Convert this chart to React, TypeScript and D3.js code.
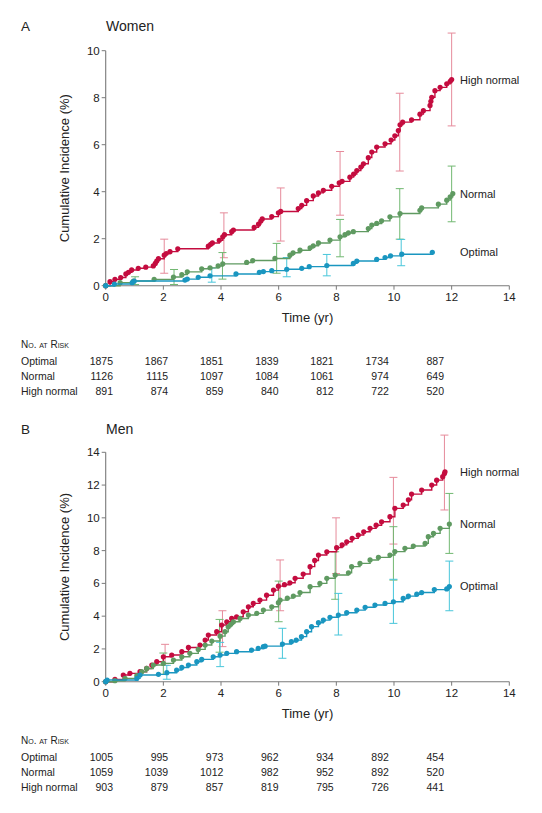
import * as d3 from 'd3';

type Pt = [number, number];
type CI = [number, number, number];

const FONT = '"Liberation Sans", Arial, Helvetica, sans-serif';

const seriesNames = ['High normal', 'Normal', 'Optimal'];
const lineColors = ['#c40c3f', '#5f9a61', '#1a96c0'];
const barColors = ['#e68b9b', '#72b872', '#48c6da'];

const xTicks = [0, 2, 4, 6, 8, 10, 12, 14];
const riskYears = [0, 2, 4, 6, 8, 10, 12];

// Women: cumulative incidence (%) at each event time (yr)
const womenHighNormal: Pt[] = [
  [0, 0], [0.15, 0.17], [0.32, 0.27], [0.52, 0.35], [0.7, 0.5], [0.79, 0.57], [0.9, 0.67],
  [1.13, 0.74], [1.39, 0.79], [1.65, 0.84], [1.72, 0.95], [1.77, 1.05], [1.83, 1.15],
  [2.03, 1.3], [2.1, 1.37], [2.23, 1.45], [2.5, 1.57], [3.56, 1.68], [3.64, 1.76],
  [3.7, 1.82], [3.94, 1.93], [4.06, 2.08], [4.12, 2.17], [4.37, 2.3], [4.43, 2.37],
  [5.15, 2.48], [5.3, 2.62], [5.38, 2.75], [5.43, 2.84], [5.76, 2.94], [5.99, 3.1],
  [6.07, 3.16], [6.68, 3.28], [6.8, 3.42], [6.97, 3.62], [7.2, 3.82], [7.38, 3.95],
  [7.55, 4.06], [7.84, 4.23], [8.1, 4.38], [8.2, 4.44], [8.47, 4.62], [8.6, 4.75],
  [8.71, 4.9], [8.85, 5.05], [8.94, 5.19], [9.11, 5.45], [9.23, 5.69], [9.4, 5.9],
  [9.69, 6.04], [9.9, 6.2], [10.03, 6.38], [10.15, 6.6], [10.21, 6.85], [10.3, 6.96],
  [10.61, 7.06], [10.9, 7.3], [11.02, 7.45], [11.25, 7.67], [11.28, 7.85], [11.31, 8.02],
  [11.42, 8.3], [11.6, 8.44], [11.83, 8.59], [11.95, 8.7], [12.0, 8.77],
];
const womenNormal: Pt[] = [
  [0, 0], [0.5, 0.13], [0.96, 0.2], [1.68, 0.27], [2.35, 0.37], [2.64, 0.47], [2.83, 0.59],
  [3.33, 0.72], [3.62, 0.76], [3.9, 0.84], [4.06, 0.93], [4.89, 0.99], [5.1, 1.07],
  [5.87, 1.16], [6.39, 1.3], [6.5, 1.4], [6.74, 1.51], [7.09, 1.61], [7.2, 1.7],
  [7.38, 1.82], [7.78, 1.94], [8.13, 2.08], [8.3, 2.17], [8.42, 2.25], [8.59, 2.3],
  [9.11, 2.43], [9.23, 2.58], [9.4, 2.65], [9.57, 2.76], [9.86, 2.93], [10.21, 3.07],
  [10.9, 3.21], [10.96, 3.31], [11.54, 3.47], [11.83, 3.64], [11.95, 3.78], [12.04, 3.92],
];
const womenOptimal: Pt[] = [
  [0, 0], [0.3, 0.07], [0.92, 0.13], [0.99, 0.2], [2.75, 0.24], [2.83, 0.28], [3.21, 0.36],
  [3.62, 0.42], [4.52, 0.5], [5.33, 0.57], [5.47, 0.6], [5.76, 0.64], [6.28, 0.7],
  [6.8, 0.74], [7.06, 0.81], [7.67, 0.86], [8.59, 0.95], [8.71, 1.05], [9.4, 1.12],
  [9.69, 1.2], [9.88, 1.27], [10.27, 1.34], [11.33, 1.42],
];

// 95% CI whiskers: [time, lower, upper]
const womenHighNormalCI: CI[] = [
  [2.03, 0.53, 1.98], [4.1, 1.19, 3.1], [6.07, 1.9, 4.16], [8.13, 3.0, 5.71],
  [10.2, 4.88, 8.19], [12.0, 6.8, 10.75],
];
const womenNormalCI: CI[] = [
  [1.02, 0.05, 0.38], [2.37, 0.05, 0.69], [4.05, 0.28, 1.41], [5.93, 0.53, 1.8],
  [8.13, 1.23, 2.82], [10.2, 1.98, 4.13], [12.0, 2.72, 5.09],
];
const womenOptimalCI: CI[] = [
  [3.68, 0.15, 0.75], [6.28, 0.38, 1.2], [7.67, 0.42, 1.33], [10.25, 0.85, 1.97],
];

// Men
const menHighNormal: Pt[] = [
  [0, 0], [0.32, 0.14], [0.61, 0.41], [0.84, 0.51], [1.19, 0.61], [1.42, 0.81], [1.6, 1.02],
  [1.77, 1.22], [2.0, 1.52], [2.29, 1.63], [2.64, 1.83], [2.87, 2.09], [3.27, 2.24],
  [3.45, 2.54], [3.56, 2.85], [3.85, 3.05], [4.02, 3.46], [4.2, 3.66], [4.37, 3.86],
  [4.54, 3.96], [4.77, 4.27], [4.95, 4.57], [5.12, 4.78], [5.35, 4.98], [5.58, 5.28],
  [5.82, 5.59], [5.99, 5.83], [6.2, 5.92], [6.39, 6.04], [6.57, 6.31], [6.85, 6.57],
  [7.09, 7.02], [7.25, 7.4], [7.38, 7.73], [7.67, 7.93], [8.01, 8.18], [8.2, 8.35],
  [8.36, 8.54], [8.55, 8.75], [8.76, 8.95], [8.95, 9.15], [9.17, 9.36], [9.38, 9.55],
  [9.57, 9.76], [9.86, 10.07], [10.03, 10.58], [10.32, 10.78], [10.5, 11.1], [10.61, 11.45],
  [10.96, 11.7], [11.31, 12.0], [11.48, 12.3], [11.69, 12.51], [11.75, 12.7], [11.77, 12.81],
];
const menNormal: Pt[] = [
  [0, 0], [0.32, 0.06], [0.67, 0.2], [1.08, 0.37], [1.25, 0.61], [1.42, 0.81], [1.65, 1.02],
  [2.0, 1.12], [2.35, 1.32], [2.64, 1.52], [2.92, 1.73], [3.21, 1.97], [3.45, 2.24],
  [3.68, 2.48], [3.97, 2.78], [4.14, 3.05], [4.25, 3.35], [4.34, 3.5], [4.43, 3.66],
  [4.66, 3.86], [4.95, 4.07], [5.24, 4.17], [5.47, 4.37], [5.76, 4.57], [5.99, 4.82],
  [6.05, 4.98], [6.3, 5.1], [6.51, 5.23], [6.74, 5.44], [7.09, 5.8], [7.43, 6.0],
  [7.67, 6.31], [7.96, 6.51], [8.42, 6.65], [8.53, 7.02], [8.82, 7.22], [9.17, 7.43],
  [9.46, 7.59], [9.86, 7.73], [10.03, 7.94], [10.38, 8.14], [10.67, 8.28], [11.08, 8.44],
  [11.19, 8.85], [11.37, 9.05], [11.6, 9.36], [11.92, 9.62],
];
const menOptimal: Pt[] = [
  [0, 0], [0.05, 0.1], [1.08, 0.2], [1.19, 0.41], [1.83, 0.45], [2.12, 0.55], [2.46, 0.71],
  [2.64, 0.87], [2.87, 1.02], [3.16, 1.22], [3.33, 1.36], [3.73, 1.52], [3.97, 1.63],
  [4.2, 1.73], [4.54, 1.83], [5.06, 1.93], [5.29, 2.03], [5.47, 2.14], [5.53, 2.17],
  [6.13, 2.3], [6.44, 2.44], [6.61, 2.54], [6.79, 2.75], [6.97, 3.05], [7.14, 3.36],
  [7.38, 3.6], [7.55, 3.76], [7.78, 3.93], [8.07, 4.07], [8.36, 4.21], [8.71, 4.37],
  [9.0, 4.54], [9.34, 4.68], [9.69, 4.78], [9.98, 4.88], [10.32, 5.08], [10.5, 5.22],
  [10.79, 5.34], [10.96, 5.44], [11.4, 5.62], [11.83, 5.66], [11.92, 5.81],
];

const menHighNormalCI: CI[] = [
  [2.06, 1.0, 2.28], [4.05, 2.14, 4.33], [6.05, 4.33, 7.43], [7.99, 6.6, 10.0],
  [9.98, 8.4, 12.47], [11.75, 10.48, 15.05],
];
const menNormalCI: CI[] = [
  [2.0, 0.45, 1.75], [3.95, 1.8, 3.8], [6.0, 3.66, 6.14], [7.96, 5.03, 7.93],
  [9.98, 6.2, 9.46], [11.92, 7.83, 11.49],
];
const menOptimalCI: CI[] = [
  [2.12, 0.15, 1.0], [3.97, 0.92, 2.4], [6.13, 1.43, 3.26], [8.07, 2.85, 5.39],
  [9.98, 3.56, 6.25], [11.92, 4.33, 7.36],
];

// Number at risk
const womenRiskOptimal = [1875, 1867, 1851, 1839, 1821, 1734, 887];
const womenRiskNormal = [1126, 1115, 1097, 1084, 1061, 974, 649];
const womenRiskHighNormal = [891, 874, 859, 840, 812, 722, 520];
const menRiskOptimal = [1005, 995, 973, 962, 934, 892, 454];
const menRiskNormal = [1059, 1039, 1012, 982, 952, 892, 520];
const menRiskHighNormal = [903, 879, 857, 819, 795, 726, 441];

const x = d3.scaleLinear().domain([0, 14]).range([105.7, 509.3]);
const riskX = d3.scaleLinear().domain([0, 12]).range([113, 444]);
const line = d3.line<Pt>().x((d) => x(d[0])).y(() => 0).curve(d3.curveStepAfter);

interface PanelProps {
  letter: string;
  title: string;
  titleY: number;
  yMax: number;
  yTop: number;
  yBottom: number;
  curves: Pt[][];
  cis: CI[][];
  tableY: number;
  risk: number[][];
}

function Panel({ letter, title, titleY, yMax, yTop, yBottom, curves, cis, tableY, risk }: PanelProps) {
  const y = d3.scaleLinear().domain([0, yMax]).range([yBottom, yTop]);
  const path = line.y((d) => y(d[1]));
  const yTicks = d3.range(0, yMax + 1, 2);
  const axisColor = '#7a7a7a';
  const midY = (yTop + yBottom) / 2;
  const rowNames = ['Optimal', 'Normal', 'High normal'];

  return (
    <g fontFamily={FONT}>
      <text x={21} y={titleY} fontSize={13.5} fill="#222">{letter}</text>
      <text x={106} y={titleY} fontSize={14} fill="#222">{title}</text>

      {/* axes */}
      <line x1={x(0)} x2={x(0)} y1={yTop} y2={yBottom} stroke={axisColor} strokeWidth={1.1} />
      <line x1={x(0)} x2={x(14)} y1={yBottom} y2={yBottom} stroke={axisColor} strokeWidth={1.1} />
      {yTicks.map((t) => (
        <g key={t}>
          <line x1={x(0) - 4} x2={x(0)} y1={y(t)} y2={y(t)} stroke={axisColor} />
          <text x={x(0) - 6} y={y(t) + 4} fontSize={11.5} textAnchor="end" fill="#222">{t}</text>
        </g>
      ))}
      {xTicks.map((t) => (
        <g key={t}>
          <line x1={x(t)} x2={x(t)} y1={yBottom} y2={yBottom + 4} stroke={axisColor} />
          <text x={x(t)} y={yBottom + 15} fontSize={11.5} textAnchor="middle" fill="#222">{t}</text>
        </g>
      ))}
      <text x={307.5} y={yBottom + 36} fontSize={13} textAnchor="middle" fill="#222">Time (yr)</text>
      <text
        transform={`translate(69, ${midY}) rotate(-90)`}
        fontSize={13}
        textAnchor="middle"
        fill="#222"
      >
        Cumulative Incidence (%)
      </text>

      {/* confidence whiskers */}
      {cis.map((bars, i) => (
        <g key={i} stroke={barColors[i]} strokeWidth={1}>
          {bars.map(([t, lo, hi]) => (
            <g key={t}>
              <line x1={x(t)} x2={x(t)} y1={y(lo)} y2={y(hi)} />
              <line x1={x(t) - 4} x2={x(t) + 4} y1={y(hi)} y2={y(hi)} />
              <line x1={x(t) - 4} x2={x(t) + 4} y1={y(lo)} y2={y(lo)} />
            </g>
          ))}
        </g>
      ))}

      {/* step curves with event markers */}
      {curves.map((pts, i) => (
        <g key={i}>
          <path d={path(pts) || ''} fill="none" stroke={lineColors[i]} strokeWidth={1.4} />
          {pts.map(([t, v]) => (
            <circle key={t} cx={x(t)} cy={y(v)} r={2.6} fill={lineColors[i]} />
          ))}
          <text
            x={460}
            y={y(pts[pts.length - 1][1]) + 4}
            fontSize={11}
            fill="#222"
          >
            {seriesNames[i]}
          </text>
        </g>
      ))}

      {/* number at risk table */}
      <text x={21} y={tableY} fontSize={10} fill="#222" style={{ fontVariant: 'small-caps' }}>
        No. at Risk
      </text>
      {risk.map((row, r) => (
        <g key={r} fontSize={10.5} fill="#222">
          <text x={21} y={tableY + 17.5 + r * 15}>{rowNames[r]}</text>
          {row.map((n, c) => (
            <text key={c} x={riskX(riskYears[c])} y={tableY + 17.5 + r * 15} textAnchor="end">{n}</text>
          ))}
        </g>
      ))}
    </g>
  );
}

export default function App() {
  return (
    <div style={{ position: 'absolute', left: 0, top: 0 }}>
      <svg width={542} height={813} style={{ display: 'block', background: '#fff' }}>
        <Panel
          letter="A"
          title="Women"
          titleY={31}
          yMax={10}
          yTop={50.7}
          yBottom={285.7}
          curves={[womenHighNormal, womenNormal, womenOptimal]}
          cis={[womenHighNormalCI, womenNormalCI, womenOptimalCI]}
          tableY={347.5}
          risk={[womenRiskOptimal, womenRiskNormal, womenRiskHighNormal]}
        />
        <Panel
          letter="B"
          title="Men"
          titleY={434}
          yMax={14}
          yTop={452.3}
          yBottom={681.7}
          curves={[menHighNormal, menNormal, menOptimal]}
          cis={[menHighNormalCI, menNormalCI, menOptimalCI]}
          tableY={743.5}
          risk={[menRiskOptimal, menRiskNormal, menRiskHighNormal]}
        />
      </svg>
    </div>
  );
}
